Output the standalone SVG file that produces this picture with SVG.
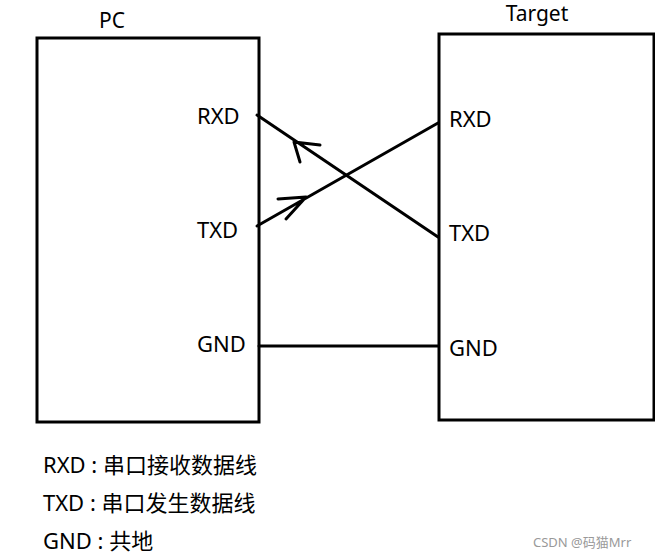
<svg xmlns="http://www.w3.org/2000/svg" width="655" height="558" viewBox="0 0 655 558">
<style>
text{font-family:"Noto Sans","Noto Sans CJK SC",sans-serif;font-size:22px;fill:#000}
.b{fill:none;stroke:#000;stroke-width:3}
.l{fill:none;stroke:#000;stroke-width:3;stroke-linecap:round;stroke-linejoin:round}
</style>
<rect width="655" height="558" fill="#fff"/>
<g id="pc"><rect class="b" x="37" y="38" width="222" height="384"/>
<text x="112" y="28" text-anchor="middle" style="font-size:21px">PC</text>
<text x="197" y="124">RXD</text><text x="197" y="238">TXD</text><text x="197" y="352">GND</text></g>
<g id="target"><rect class="b" x="439" y="34" width="215" height="386"/>
<text x="537" y="21" text-anchor="middle" style="font-size:21px">Target</text>
<text x="449" y="127">RXD</text><text x="449" y="241">TXD</text><text x="449" y="356">GND</text></g>
<g id="connectors">
<path class="l" d="M257 115L438 237M294 142L320 145M294 142L300 162"/>
<path class="l" d="M257 226L438 123M306 197L278 199M306 197L286 219"/>
<path class="l" d="M259 346L438 346"/>
</g>
<g id="legend">
<text x="43" y="473">RXD : 串口接收数据线</text>
<text x="43" y="511">TXD : 串口发生数据线</text>
<text x="43" y="549">GND : 共地</text>
</g>
<text x="533" y="547" style="font-size:13px;fill:#999">CSDN @码猫Mrr</text>
</svg>
